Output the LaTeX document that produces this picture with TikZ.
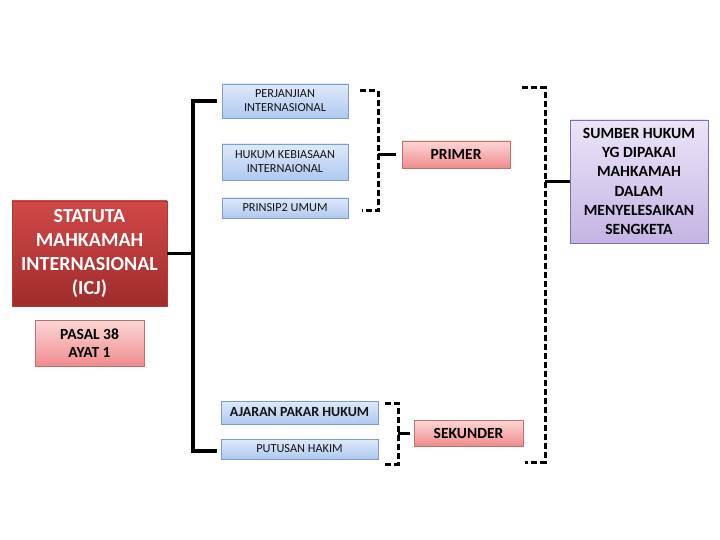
\documentclass[tikz,border=0pt]{standalone}
\usepackage{fontspec}
\setmainfont{Carlito}
\begin{document}
\begin{tikzpicture}[x=1pt,y=-1pt,
  box/.style={draw, inner sep=0pt, align=center, line width=0.8pt},
  bluebox/.style={box, draw={rgb,255:red,126;green,156;blue,208}, top color={rgb,255:red,222;green,233;blue,250}, bottom color={rgb,255:red,176;green,200;blue,240}, text={rgb,255:red,20;green,20;blue,20}},
  pinkbox/.style={box, draw={rgb,255:red,196;green,110;blue,110}, top color={rgb,255:red,253;green,215;blue,215}, bottom color={rgb,255:red,240;green,140;blue,140}, text=black},
  redbox/.style={box, draw={rgb,255:red,170;green,60;blue,60}, top color={rgb,255:red,208;green,72;blue,70}, bottom color={rgb,255:red,160;green,44;blue,44}, text=white, font=\bfseries\fontsize{20}{24.2}\selectfont},
  purplebox/.style={box, draw={rgb,255:red,132;green,110;blue,170}, top color={rgb,255:red,236;green,228;blue,248}, bottom color={rgb,255:red,196;green,180;blue,228}, text=black, font=\bfseries\fontsize{15.6}{19.3}\selectfont},
  smallfont/.style={font=\fontsize{12.3}{14}\selectfont},
  solidline/.style={line width=3.6pt},
  dashline/.style={line width=3pt, dash pattern=on 6pt off 3pt},
  joinline/.style={line width=3pt}
]
\useasboundingbox (0,0) rectangle (720,540);
\fill[white] (0,0) rectangle (720,540);

\node[bluebox, smallfont, minimum width=126pt, minimum height=34pt] (pa) at (285,101) {PERJANJIAN\\INTERNASIONAL};
\node[bluebox, smallfont, minimum width=126pt, minimum height=36pt] (hk) at (285,162) {HUKUM KEBIASAAN\\INTERNAIONAL};
\node[bluebox, smallfont, minimum width=126pt, minimum height=20pt] (pu) at (285,208) {PRINSIP2 UMUM};
\node[redbox, minimum width=155pt, minimum height=105pt] (st) at (89.5,253.5) {STATUTA\\MAHKAMAH\\INTERNASIONAL\\(ICJ)};
\node[pinkbox, minimum width=109pt, minimum height=46pt, font=\bfseries\fontsize{15.5}{18}\selectfont] (ps) at (89.5,343) {PASAL 38\\AYAT 1};
\node[pinkbox, minimum width=108pt, minimum height=27pt, font=\bfseries\fontsize{15.5}{16}\selectfont] (pr) at (456,154.5) {PRIMER};
\node[purplebox, minimum width=138pt, minimum height=123pt] (sb) at (639,181.5) {SUMBER HUKUM\\YG DIPAKAI\\MAHKAMAH\\DALAM\\MENYELESAIKAN\\SENGKETA};
\node[bluebox, minimum width=157pt, minimum height=23pt, font=\bfseries\fontsize{14}{15}\selectfont] (aj) at (299.5,412.5) {AJARAN PAKAR HUKUM};
\node[bluebox, smallfont, minimum width=157pt, minimum height=20pt] (ph) at (299.5,449) {PUTUSAN HAKIM};
\node[pinkbox, minimum width=109pt, minimum height=26pt, font=\bfseries\fontsize{15.5}{16}\selectfont] (sk) at (468.5,433) {SEKUNDER};

% left solid bracket
\coordinate (lt) at (193,101);
\coordinate (lb) at (193,451);
\draw[solidline] ([xshift=-5pt]pa.west) -- (lt) -- (lb) -- (217,451);
\draw[solidline] (st.east) -- (st.east -| lt);

% primary dashed bracket
\coordinate (d1t) at (378,91);
\coordinate (d1b) at (378,211);
\draw[dashline] (360,91) -- (d1t) -- (d1b) -- (362,211);
\draw[joinline] (pr.west -| d1t) -- ([xshift=-6pt]pr.west);

% big dashed bracket
\coordinate (d2t) at (545,88);
\coordinate (d2b) at (545,462);
\draw[dashline] (522,88) -- (d2t) -- (d2b) -- (525,462);
\draw[joinline] (sb.west -| d2t) -- (sb.west);

% secondary dashed bracket
\coordinate (d3t) at (398,403);
\coordinate (d3b) at (398,464);
\draw[dashline] (385,403) -- (d3t) -- (d3b) -- (385,464);
\draw[joinline] (sk.west -| d3t) -- ([xshift=-4pt]sk.west);
\end{tikzpicture}
\end{document}
